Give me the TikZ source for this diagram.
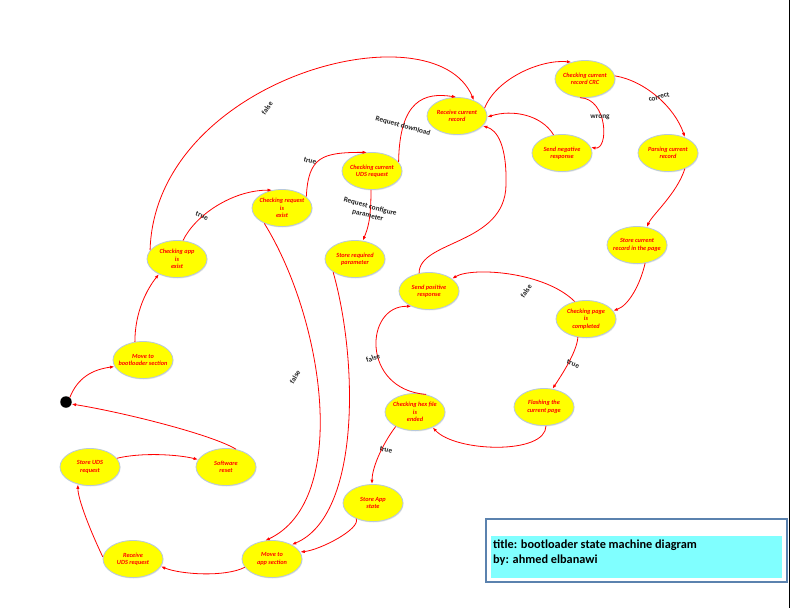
\documentclass[tikz,border=0pt]{standalone}
\usepackage{fontspec}
\setmainfont{Carlito}
\usetikzlibrary{shapes.geometric,arrows.meta,shadows}

\definecolor{stateyellow}{HTML}{FFFF00}
\definecolor{stateedge}{HTML}{B7C8DD}
\definecolor{titleblue}{HTML}{5B82AE}
\definecolor{titlecyan}{HTML}{80FFFF}

\tikzset{
  state/.style={ellipse, fill=stateyellow, draw=stateedge, line width=0.8pt,
    minimum width=60pt, minimum height=37pt, inner xsep=-12pt, inner ysep=-4pt,
    align=center, text=red, font=\fontsize{6.3}{7.4}\selectfont\bfseries\itshape,
    drop shadow={opacity=0.18, shadow xshift=0.6pt, shadow yshift=-1pt}},
  initdot/.style={circle, fill=black, minimum size=11.5pt, inner sep=0pt},
  trans/.style={draw=red, line width=0.8pt, -{Latex[length=4.5pt,width=3.2pt]}},
  lbl/.style={font=\fontsize{7.3}{9}\selectfont\bfseries, text=black!85, inner sep=0pt, align=center},
}

\begin{document}
\begin{tikzpicture}[x=1pt,y=-1pt]
\useasboundingbox[fill=white] (0,0) rectangle (790,608);
\draw[line width=1pt] (789,0) -- (789,608);

% states
\node[initdot] (init) at (66,402) {};
\node[state] (boot) at (143,360) {Move to\\bootloader section};
\node[state] (appchk) at (177,259) {Checking app\\is\\exist};
\node[state] (reqchk) at (282,208) {Checking request\\is\\exist};
\node[state] (udschk) at (372,171) {Checking current\\UDS request};
\node[state] (storeparam) at (355,259) {Store required\\parameter};
\node[state] (recv) at (457,116) {Receive current\\record};
\node[state] (crc) at (585,79) {Checking current\\record CRC};
\node[state] (neg) at (562,153) {Send negative\\response};
\node[state] (parse) at (668,153) {Parsing current\\record};
\node[state] (storerec) at (637,245) {Store current\\record in the page};
\node[state] (pagechk) at (586,319) {Checking page\\is\\completed};
\node[state] (pos) at (429,291) {Send positive\\response};
\node[state] (flash) at (544,407) {Flashing the\\current page};
\node[state] (hexchk) at (415,412) {Checking hex file\\is\\ended};
\node[state] (storeapp) at (373,503) {Store App\\state};
\node[state] (swreset) at (226,467) {Software\\reset};
\node[state] (storeuds) at (90,467) {Store UDS\\request};
\node[state] (recvuds) at (133,559) {Receive\\UDS request};
\node[state] (appsec) at (272,559) {Move to\\app section};

% transitions
\draw[trans] (init.50) .. controls +(8,-20) and +(-22,3) .. (boot.193);
\draw[trans] (swreset.61) .. controls +(-25,-15) and +(50,8) .. (init.-20);
\draw[trans] (boot.114) .. controls +(0,-30) and +(-12,15) .. (appchk.220);
\draw[trans] (appchk.72) .. controls +(12,-25) and +(-40,0) .. (reqchk.119);
\draw[trans] (appchk.162) .. controls +(5,-172) and +(-40,-95) .. (recv.43);
\draw[trans] (reqchk.25) .. controls +(2,-40) and +(-45,0) .. (udschk.105);
\draw[trans] (reqchk.221) .. controls +(60,97) and +(85,-40) .. (appsec.110);
\draw[trans] (udschk.19) .. controls +(1,-62) and +(-32,-5) .. (recv.92);
\draw[trans] (udschk.267) .. controls +(0,30) and +(5,-12) .. (storeparam.67);
\draw[trans] (storeparam.211) .. controls +(25,88) and +(69,-29) .. (appsec.36);
\draw[trans] (recv.16) .. controls +(12,-30) and +(-30,-3) .. (crc.129);
\draw[trans] (crc.255) .. controls +(28,1) and +(18,3) .. (neg.11);
\draw[trans] (neg.115) .. controls +(-12,-20) and +(25,-8) .. (recv.-2);
\draw[trans] (crc.6) .. controls +(30,5) and +(-10,-30) .. (parse.43);
\draw[trans] (parse.317) .. controls +(-8,25) and +(5,-12) .. (storerec.61);
\draw[trans] (storerec.294) .. controls +(-5,22) and +(15,-5) .. (pagechk.17);
\draw[trans] (pagechk.123) .. controls +(-30,-30) and +(20,-12) .. (pos.28);
\draw[trans] (pagechk.246) .. controls +(-1,15) and +(8,-12) .. (flash.65);
\draw[trans] (flash.276) .. controls +(0,29) and +(23,25) .. (hexchk.319);
\draw[trans] (hexchk.58) .. controls +(-65,-5) and +(-47,-1) .. (pos.221);
\draw[trans] (pos.119) .. controls +(0,-33) and (505,245) .. (506,185)
  .. controls (507,145) and (497,130) .. (recv.-21);
\draw[trans] (hexchk.217) .. controls +(-15,20) and +(0,-15) .. (storeapp.93);
\draw[trans] (storeapp.223) .. controls +(5,10) and +(20,-2) .. (appsec.14);
\draw[trans] (appsec.197) .. controls +(-20,10) and +(20,8) .. (recvuds.345);
\draw[trans] (recvuds.176) .. controls +(-12,-25) and +(0,15) .. (storeuds.235);
\draw[trans] (storeuds.18) .. controls +(25,-6) and +(-20,-5) .. (swreset.165);

% guard labels
\node[lbl, rotate=55] (lfalseapp) at (267,108) {false};
\node[lbl, rotate=-20] (ltrueapp) at (202,216) {true};
\node[lbl, rotate=-15] (ltruereq) at (310,161) {true};
\node[lbl, rotate=60] (lfalsereq) at (295,377) {false};
\node[lbl, rotate=-16] (ldownload) at (403,126) {Request download};
\node[lbl, rotate=-15] (lconfig) at (369,211) {Request configure\\parameter};
\node[lbl] (lwrong) at (600,117) {wrong};
\node[lbl, rotate=15] (lcorrect) at (659,97) {correct};
\node[lbl, rotate=55] (lfalsepage) at (526,291) {false};
\node[lbl, rotate=-20] (ltruepage) at (573,364) {true};
\node[lbl, rotate=20] (lfalsehex) at (373,358) {false};
\node[lbl, rotate=-15] (ltruehex) at (386,450) {true};

% title
\node[draw=titleblue, line width=1.2pt, minimum width=301pt, minimum height=63pt, inner sep=0pt] (titleframe) at (636.5,550.5) {};
\node[fill=titlecyan, minimum width=291pt, minimum height=42pt, inner sep=0pt] (titlefill) at (636.5,557) {};
\node[anchor=west, align=left, inner sep=0pt, font=\fontsize{12.3}{15}\selectfont\bfseries] (titletext) at (493,552.5) {title: bootloader state machine diagram\\by: ahmed elbanawi};
\end{tikzpicture}
\end{document}
